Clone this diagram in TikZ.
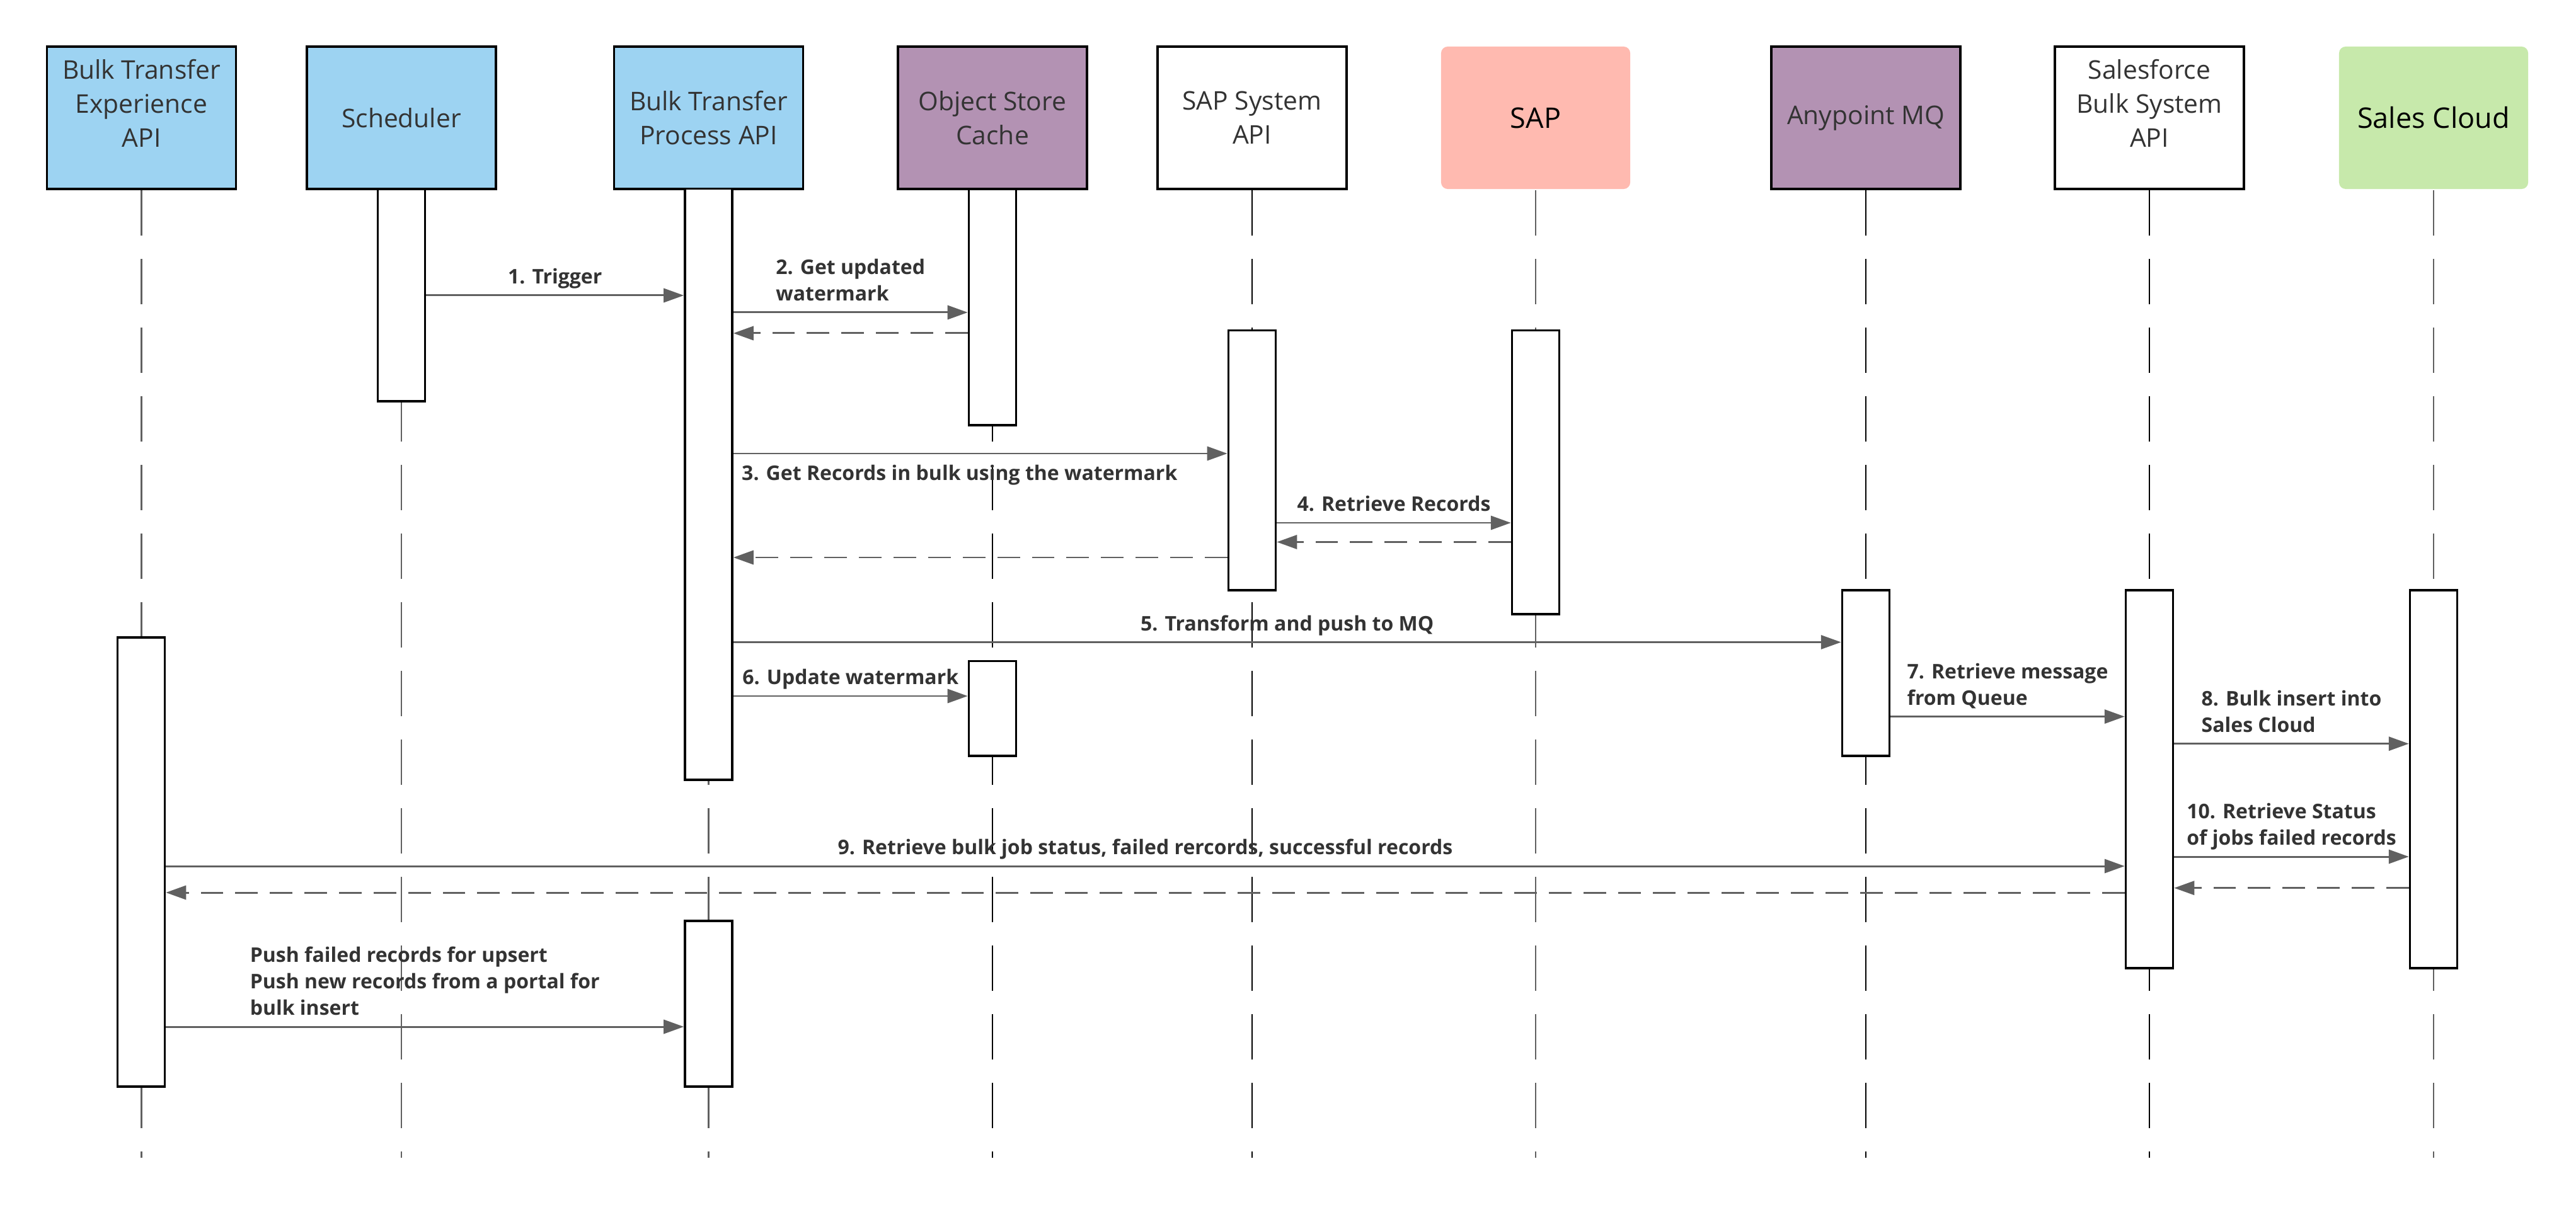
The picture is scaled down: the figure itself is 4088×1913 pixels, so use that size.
\documentclass[tikz,border=0pt]{standalone}
\usepackage{fontspec}
\setmainfont{Open Sans}
\usepackage{xcolor}
\usepackage{tikz}
\usetikzlibrary{arrows.meta}

\definecolor{hblue}{HTML}{9DD3F2}
\definecolor{hpurple}{HTML}{B392B3}
\definecolor{hpink}{HTML}{FFBAB0}
\definecolor{hgreen}{HTML}{C7E9AB}
\definecolor{msggray}{HTML}{606060}
\definecolor{txtgray}{HTML}{333333}

\tikzset{
  head/.style={draw=black, line width=1pt, minimum width=3cm, minimum height=2.26cm, inner sep=0pt,
    align=center, text=txtgray, font=\fontsize{11.6}{15.25}\selectfont},
  headr/.style={head, draw=none, rounded corners=3pt, text=black, font=\fontsize{12.8}{15.25}\selectfont},
  htext/.style={align=center, inner sep=0pt, text=txtgray, font=\fontsize{11.6}{15.25}\selectfont},
  act/.style={draw=black, line width=1pt, fill=white, minimum width=0.75cm, inner sep=0pt},
  life/.style={line width=0.8pt, dash pattern=on 20.5pt off 10.5pt},
  msg/.style={msggray, line width=0.85pt, -{Triangle[length=9.1pt,width=6.3pt]}},
  ret/.style={msg, dash pattern=on 10.2pt off 5.4pt},
  lbl/.style={text=txtgray, font=\bfseries\fontsize{9.1}{11.95}\selectfont, align=left,
    inner sep=0pt, anchor=south, yshift=1.25pt, execute at end node=\strut},
}

\begin{document}
\begin{tikzpicture}[x=0.01cm, y=-0.01cm]
\useasboundingbox (0,0) rectangle (4088,1913);

% participants
\node[head, fill=hblue] (exp) at (224.5,187) {};
\node[htext] (expT) at (224.5,164) {Bulk Transfer\\Experience\\API};
\node[head, fill=hblue] (sch) at (637,187) {Scheduler};
\node[head, fill=hblue] (proc) at (1124.5,187) {Bulk Transfer\\Process API};
\node[head, fill=hpurple] (obj) at (1575,187) {Object Store\\Cache};
\node[head, fill=white] (sys) at (1987,187) {SAP System\\API};
\node[headr, fill=hpink] (sap) at (2437,187) {SAP};
\node[head, fill=hpurple] (mq) at (2961,187) {Anypoint MQ};
\node[head, fill=white] (sf) at (3411,187) {};
\node[htext] (sfT) at (3411,164) {Salesforce\\Bulk System\\API};
\node[headr, fill=hgreen] (sc) at (3862,187) {Sales Cloud};

% lifelines
\draw[life, msggray] (exp.south) -- (exp.south |- 0,1838);
\draw[life, msggray] (sch.south) -- (sch.south |- 0,1838);
\draw[life, msggray] (proc.south) -- (proc.south |- 0,1838);
\draw[life, black] (obj.south) -- (obj.south |- 0,1838);
\draw[life, black] (sys.south) -- (sys.south |- 0,1838);
\draw[life, msggray] (sap.south) -- (sap.south |- 0,1838);
\draw[life, black] (mq.south) -- (mq.south |- 0,1838);
\draw[life, black] (sf.south) -- (sf.south |- 0,1838);
\draw[life, msggray] (sc.south) -- (sc.south |- 0,1838);

% activations
\node[act, minimum height=3.37cm] (schA) at (637,468.5) {};
\node[act, minimum height=9.375cm] (procA) at (1124.5,768.75) {};
\node[act, minimum height=3.75cm] (objA) at (1575,487.5) {};
\node[act, minimum height=4.125cm] (sysA) at (1987,730.75) {};
\node[act, minimum height=4.505cm] (sapA) at (2437,749.75) {};
\node[act, minimum height=2.63cm] (mqA) at (2961,1068.5) {};
\node[act, minimum height=1.505cm] (objB) at (1575,1124.75) {};
\node[act, minimum height=6cm] (sfA) at (3411,1237) {};
\node[act, minimum height=6cm] (scA) at (3862,1237) {};
\node[act, minimum height=7.13cm] (expA) at (224,1368.5) {};
\node[act, minimum height=2.63cm] (procB) at (1124.5,1593.5) {};

% messages
\draw[msg] (schA.east |- 0,469) -- (procA.west |- 0,469) node[lbl, midway] {1. Trigger};
\draw[msg] (procA.east |- 0,496) -- (objA.west |- 0,496) node[lbl, midway] {2. Get updated\\watermark};
\draw[ret] (objA.west |- 0,529) -- (procA.east |- 0,529);
\draw[msg] (procA.east |- 0,720) -- (sysA.west |- 0,720)
  node[lbl, pos=0, anchor=north west, xshift=3.4pt, yshift=-4.6pt] {3. Get Records in bulk using the watermark};
\draw[msg] (sysA.east |- 0,830) -- (sapA.west |- 0,830) node[lbl, midway] {4. Retrieve Records};
\draw[ret] (sapA.west |- 0,860.5) -- (sysA.east |- 0,860.5);
\draw[ret] (sysA.west |- 0,885) -- (procA.east |- 0,885);
\draw[msg] (procA.east |- 0,1019.5) -- (mqA.west |- 0,1019.5) node[lbl, midway] {5. Transform and push to MQ};
\draw[msg] (procA.east |- 0,1105) -- (objB.west |- 0,1105) node[lbl, midway] {6. Update watermark};
\draw[msg] (mqA.east |- 0,1137.6) -- (sfA.west |- 0,1137.6) node[lbl, midway] {7. Retrieve message\\from Queue};
\draw[msg] (sfA.east |- 0,1180.7) -- (scA.west |- 0,1180.7) node[lbl, midway] {8. Bulk insert into\\Sales Cloud};
\draw[msg] (sfA.east |- 0,1360) -- (scA.west |- 0,1360) node[lbl, midway] {10. Retrieve Status\\of jobs failed records};
\draw[msg] (expA.east |- 0,1375) -- (sfA.west |- 0,1375)
  node[lbl, midway] {9. Retrieve bulk job status, failed rercords, successful records};
\draw[ret] (scA.west |- 0,1409.7) -- (sfA.east |- 0,1409.7);
\draw[ret] (sfA.west |- 0,1417) -- (expA.east |- 0,1417);
\draw[msg] (expA.east |- 0,1630) -- (procB.west |- 0,1630)
  node[lbl, midway] {Push failed records for upsert\\Push new records from a portal for\\bulk insert};
\end{tikzpicture}
\end{document}
